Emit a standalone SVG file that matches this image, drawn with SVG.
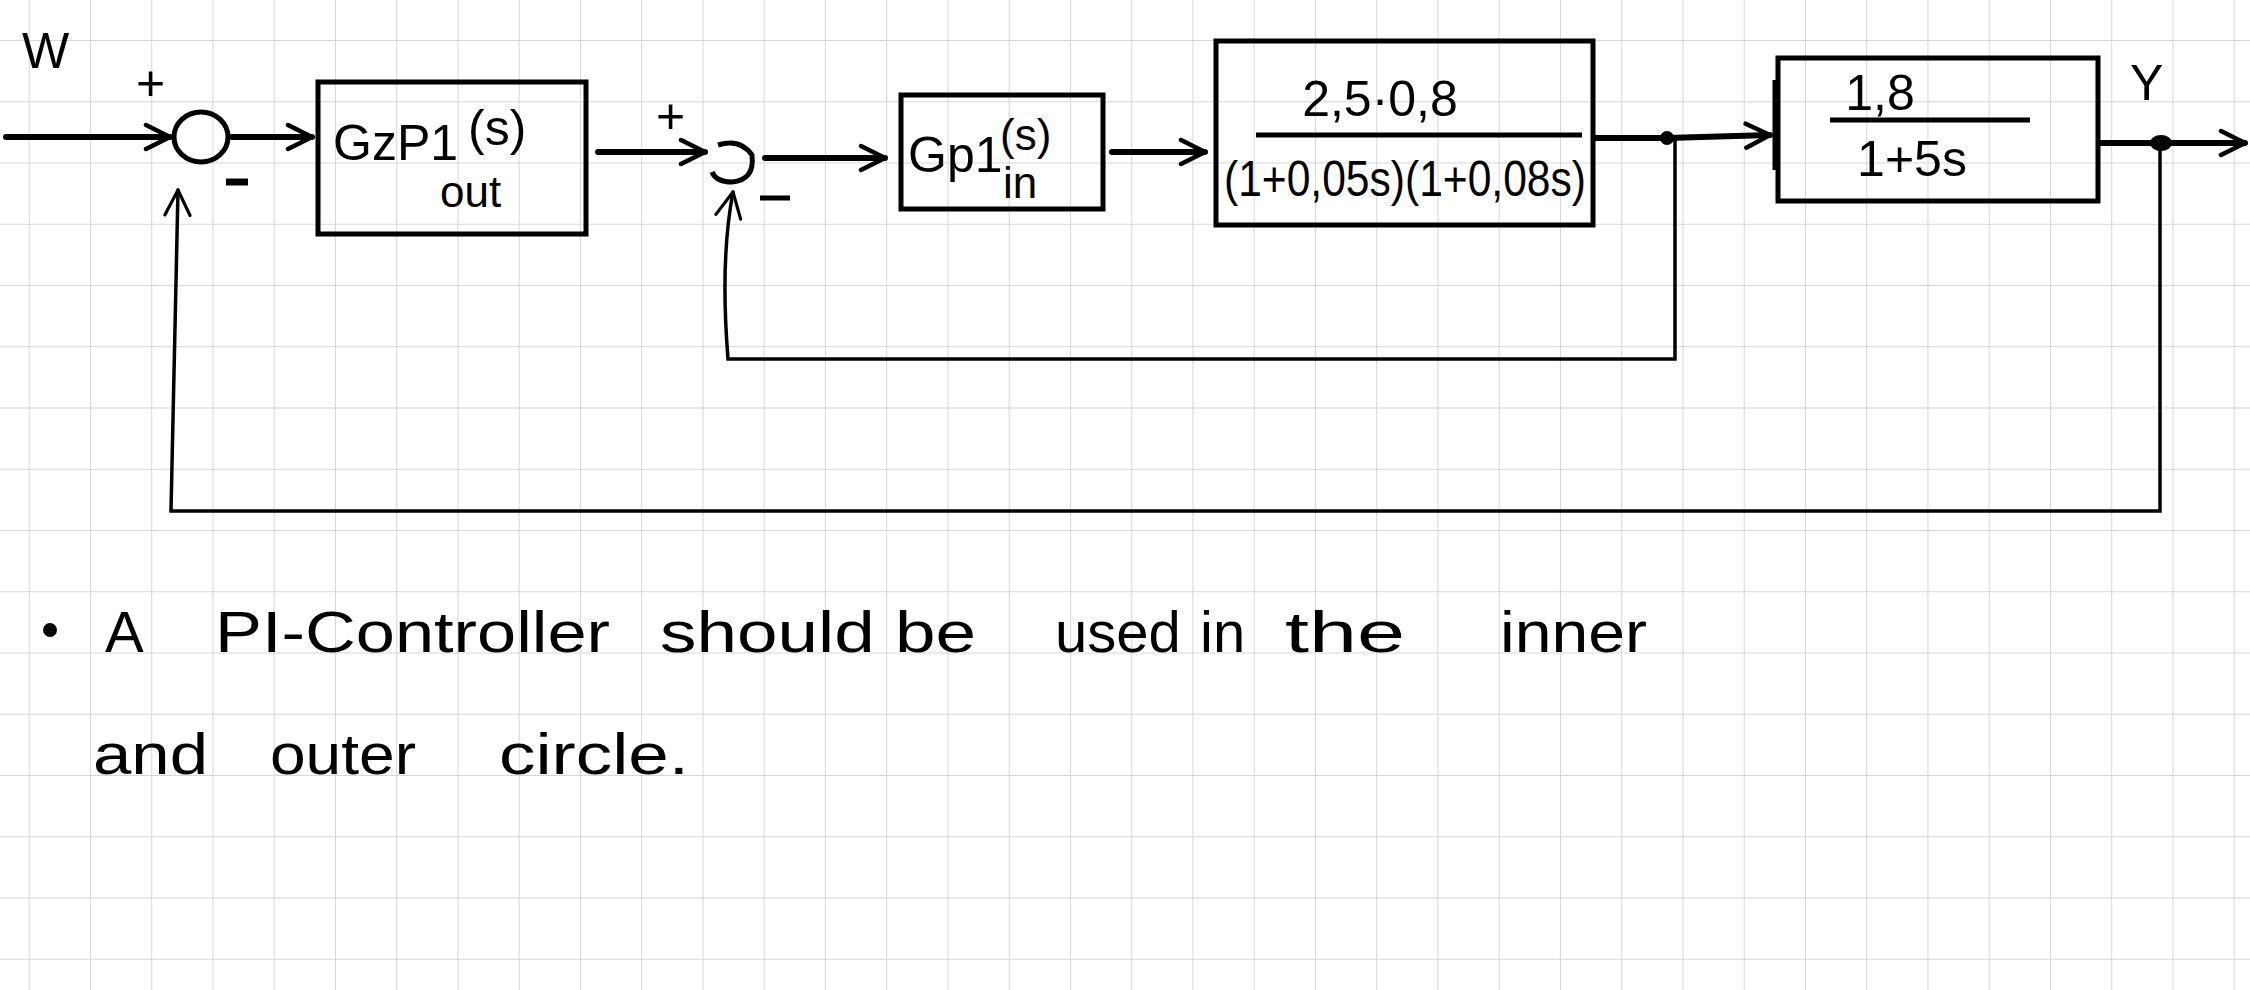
<svg xmlns="http://www.w3.org/2000/svg" width="2250" height="990" viewBox="0 0 2250 990">
<defs>
<pattern id="grid" x="28.7" y="40" width="61.25" height="61.25" patternUnits="userSpaceOnUse">
<path d="M0 0V61.25M0 0H61.25" fill="none" stroke="#d6d6d6" stroke-width="2"/>
</pattern>
<marker id="ah" viewBox="0 0 20 20" refX="18" refY="10" markerWidth="5" markerHeight="5" orient="auto" markerUnits="strokeWidth">
<path d="M2 2L18 10L2 18" fill="none" stroke="#000" stroke-width="3" stroke-linecap="round" stroke-linejoin="round"/>
</marker>
<marker id="ahs" viewBox="0 0 20 20" refX="18" refY="10" markerWidth="9" markerHeight="9" orient="auto" markerUnits="strokeWidth">
<path d="M2 2L18 10L2 18" fill="none" stroke="#000" stroke-width="2" stroke-linecap="round" stroke-linejoin="round"/>
</marker>
</defs>
<style>
.box{fill:none;stroke:#000;stroke-width:5}
.ln{fill:none;stroke:#000;stroke-width:6;stroke-linecap:round}
.fb{fill:none;stroke:#000;stroke-width:3.5;stroke-linecap:round}
text{font-family:"Liberation Sans",Arial,sans-serif;fill:#000}
.lbl{font-size:50px}
.big{font-size:44px}
.note{font-size:58px}
</style>
<rect width="2250" height="990" fill="#fff"/>
<rect width="2250" height="990" fill="url(#grid)"/>

<g id="connectors">
<path class="ln" d="M6 137H170" marker-end="url(#ah)"/>
<path class="ln" d="M232 137H312" marker-end="url(#ah)"/>
<path class="ln" d="M598 152H705" marker-end="url(#ah)"/>
<path class="ln" d="M765 158H885" marker-end="url(#ah)"/>
<path class="ln" d="M1112 152H1205" marker-end="url(#ah)"/>
<path class="ln" d="M1594 138H1667L1770 135" marker-end="url(#ah)"/>
<path class="ln" d="M2099 143H2245" marker-end="url(#ah)"/>
<circle cx="1667" cy="138" r="7"/>
<ellipse cx="2161" cy="143" rx="11" ry="8"/>
<path class="fb" d="M1675 140V359H728Q720 260 733 192" marker-end="url(#ahs)"/>
<path class="fb" d="M2160 150V511H171L178 190" marker-end="url(#ahs)"/>
</g>

<g id="w"><text class="lbl" x="22" y="68" font-size="56">W</text></g>
<g id="sum1">
<ellipse cx="201" cy="137" rx="27" ry="25" fill="none" stroke="#000" stroke-width="5"/>
<text class="lbl" x="136" y="100">+</text>
<path d="M226 182H248" stroke="#000" stroke-width="7"/>
</g>
<g id="gout">
<rect class="box" x="318" y="82" width="268" height="152"/>
<text class="lbl" x="333" y="160">GzP1</text>
<text class="lbl" x="468" y="145">(s)</text>
<text class="big" x="440" y="207">out</text>
</g>
<g id="sum2">
<path d="M718 145Q740 138 752 155Q755 180 732 182Q716 182 712 172" fill="none" stroke="#000" stroke-width="5"/>
<text class="lbl" x="656" y="133">+</text>
<path d="M760 198H790" stroke="#000" stroke-width="5"/>
</g>
<g id="gin">
<rect class="box" x="901" y="95" width="202" height="114"/>
<text class="lbl" x="908" y="172">Gp1</text>
<text class="big" x="1000" y="150">(s)</text>
<text class="big" x="1003" y="198">in</text>
</g>
<g id="plant1">
<rect class="box" x="1216" y="41" width="377" height="184"/>
<text class="lbl" x="1380" y="116" text-anchor="middle">2,5·0,8</text>
<path d="M1256 135H1582" stroke="#000" stroke-width="5"/>
<text class="lbl" x="1405" y="196" text-anchor="middle" textLength="362" lengthAdjust="spacingAndGlyphs">(1+0,05s)(1+0,08s)</text>
</g>
<g id="plant2">
<rect class="box" x="1778" y="58" width="320" height="143"/>
<path d="M1775 80V170" stroke="#000" stroke-width="5"/>
<text class="lbl" x="1880" y="110" text-anchor="middle">1,8</text>
<path d="M1830 120H2030" stroke="#000" stroke-width="5"/>
<text class="lbl" x="1912" y="176" text-anchor="middle">1+5s</text>
</g>
<g id="y"><text class="lbl" x="2130" y="100" font-size="66">Y</text></g>

<g id="note">
<circle cx="50" cy="630" r="7"/>
<text class="note" y="652"><tspan x="105">A</tspan> <tspan x="215" textLength="395" lengthAdjust="spacingAndGlyphs">PI-Controller</tspan> <tspan x="660" textLength="316" lengthAdjust="spacingAndGlyphs">should be</tspan> <tspan x="1055">used</tspan> <tspan x="1200">in</tspan> <tspan x="1285" textLength="120" lengthAdjust="spacingAndGlyphs">the</tspan> <tspan x="1500" textLength="147" lengthAdjust="spacingAndGlyphs">inner</tspan></text>
<text class="note" y="774"><tspan x="93" textLength="115" lengthAdjust="spacingAndGlyphs">and</tspan> <tspan x="270" textLength="146" lengthAdjust="spacingAndGlyphs">outer</tspan> <tspan x="499" textLength="190" lengthAdjust="spacingAndGlyphs">circle.</tspan></text>
</g>
</svg>
